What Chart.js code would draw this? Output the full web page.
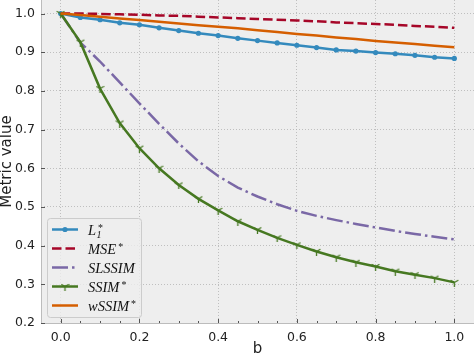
<!DOCTYPE html>
<html><head><meta charset="utf-8">
<script src="https://cdn.jsdelivr.net/npm/chart.js@4"></script>
<style>html,body{margin:0;padding:0;background:#fff;overflow:hidden}canvas{display:block}</style>
</head><body>
<canvas id="c" width="474" height="357"></canvas>
<script>
const bValues = [0,0.05,0.1,0.15,0.2,0.25,0.3,0.35,0.4,0.45,0.5,0.55,0.6,0.65,0.7,0.75,0.8,0.85,0.9,0.95,1.0];
const l1Values = [1.0,0.990,0.984,0.976,0.971,0.963,0.956,0.949,0.943,0.936,0.930,0.924,0.918,0.912,0.906,0.903,0.899,0.896,0.892,0.887,0.884];
const mseValues = [1.0,1.0,0.999,0.998,0.997,0.995,0.994,0.992,0.990,0.988,0.986,0.984,0.982,0.980,0.977,0.975,0.973,0.971,0.968,0.966,0.963];
const slssimValues = [1.0,0.925,0.876,0.822,0.768,0.715,0.664,0.618,0.580,0.550,0.527,0.507,0.490,0.477,0.466,0.456,0.447,0.438,0.430,0.423,0.416];
const ssimValues = [1.0,0.926,0.806,0.717,0.652,0.600,0.557,0.521,0.491,0.463,0.441,0.420,0.402,0.385,0.370,0.357,0.346,0.334,0.325,0.316,0.305];
const wssimValues = [1.0,0.996,0.992,0.987,0.983,0.979,0.974,0.970,0.966,0.962,0.957,0.952,0.947,0.943,0.938,0.934,0.929,0.925,0.921,0.917,0.913];
const xTicks = [0,0.2,0.4,0.6,0.8,1.0];
const xMinorTicks = [0.05,0.1,0.15,0.25,0.3,0.35,0.45,0.5,0.55,0.65,0.7,0.75,0.85,0.9,0.95];
const yTicks = [0.2,0.3,0.4,0.5,0.6,0.7,0.8,0.9,1.0];
const seriesNames = ['L1','MSE','SLSSIM','SSIM','wSSIM'];

const C = {blue:'#348ABD', red:'#A60628', purple:'#7A68A6', green:'#467821', orange:'#D55E00'};
const LW = 2.5;

function triMarker(color){
  const c=document.createElement('canvas'); c.width=9; c.height=9;
  const g=c.getContext('2d'); g.strokeStyle=color; g.lineWidth=1.3;
  g.beginPath(); g.moveTo(4.5,4.5); g.lineTo(4.5,9); g.moveTo(4.5,4.5); g.lineTo(0.6,2.2);
  g.moveTo(4.5,4.5); g.lineTo(8.4,2.2); g.stroke(); return c;
}
const tri = triMarker(C.green);
const pts = arr => bValues.map((b,i)=>({x:b,y:arr[i]}));

const datasets = [
  {label:seriesNames[0], data:pts(l1Values), borderColor:C.blue, backgroundColor:C.blue, borderWidth:LW, pointRadius:2.6, pointBorderWidth:0, pointStyle:'circle', order:5},
  {label:seriesNames[1], data:pts(mseValues), borderColor:C.red, borderWidth:LW, borderDash:[9.5,4], pointRadius:0, order:4},
  {label:seriesNames[2], data:pts(slssimValues), borderColor:C.purple, borderWidth:LW, borderDash:[16,4,2.5,4], pointRadius:0, order:3},
  {label:seriesNames[3], data:pts(ssimValues), borderColor:C.green, backgroundColor:C.green, borderWidth:LW, pointRadius:4.5, pointStyle:tri, order:2},
  {label:seriesNames[4], data:pts(wssimValues), borderColor:C.orange, borderWidth:LW, pointRadius:0, order:1}
];

const legendItems = [
  {color:C.blue, dash:[], marker:'dot', base:'L', sub:'1', sup:'*'},
  {color:C.red, dash:[9.5,4], base:'MSE', sup:'*'},
  {color:C.purple, dash:[16,4,2.5,4], base:'SLSSIM'},
  {color:C.green, dash:[], marker:'tri', base:'SSIM', sup:'*'},
  {color:C.orange, dash:[], base:'wSSIM', sup:'*'}
];

const decor = {
  id:'decor',
  beforeDraw(chart){
    const {ctx, chartArea:a} = chart;
    ctx.save(); ctx.fillStyle='#eeeeee'; ctx.fillRect(a.left,a.top,a.right-a.left,a.bottom-a.top); ctx.restore();
  },
  afterDraw(chart){
    const {ctx, chartArea:a, scales:{x,y}} = chart;
    ctx.save();
    ctx.strokeStyle='#bcbcbc'; ctx.lineWidth=1;
    ctx.beginPath(); ctx.moveTo(a.left+0.5,a.top); ctx.lineTo(a.left+0.5,a.bottom+0.5); ctx.lineTo(a.right,a.bottom+0.5); ctx.stroke();
    ctx.strokeStyle='#555'; ctx.lineWidth=1;
    ctx.beginPath();
    xTicks.forEach(v=>{const px=Math.round(x.getPixelForValue(v))+0.5; ctx.moveTo(px,a.bottom); ctx.lineTo(px,a.bottom-4);});
    xMinorTicks.forEach(v=>{const px=Math.round(x.getPixelForValue(v))+0.5; ctx.moveTo(px,a.bottom); ctx.lineTo(px,a.bottom-2);});
    yTicks.forEach(v=>{const py=Math.round(y.getPixelForValue(v))+0.5; ctx.moveTo(a.left,py); ctx.lineTo(a.left+4,py);});
    ctx.stroke();
    const lx=47, ly=218, lw=94, lh=99;
    ctx.fillStyle='rgba(238,238,238,0.8)'; ctx.strokeStyle='#cccccc'; ctx.lineWidth=1;
    ctx.beginPath(); if(ctx.roundRect){ctx.roundRect(lx+0.5,ly+0.5,lw,lh,3);} else {ctx.rect(lx+0.5,ly+0.5,lw,lh);} ctx.fill(); ctx.stroke();
    legendItems.forEach((it,i)=>{
      const cy = 229.5 + i*19;
      ctx.save(); ctx.strokeStyle=it.color; ctx.lineWidth=LW; ctx.setLineDash(it.dash);
      ctx.beginPath(); ctx.moveTo(52,cy); ctx.lineTo(78,cy); ctx.stroke(); ctx.restore();
      if(it.marker==='dot'){ctx.fillStyle=it.color; ctx.beginPath(); ctx.arc(65,cy,2.6,0,Math.PI*2); ctx.fill();}
      if(it.marker==='tri'){ctx.drawImage(tri,65-4.5,cy-4.5);}
      ctx.fillStyle='#111'; ctx.textBaseline='alphabetic'; ctx.textAlign='left';
      ctx.font="italic 14.5px 'Liberation Serif'";
      let tx=88; const base=cy+5;
      ctx.fillText(it.base,tx,base); tx+=ctx.measureText(it.base).width;
      ctx.font="italic 10px 'Liberation Serif'";
      if(it.sub){ctx.fillText(it.sub,tx+0.5,base+3);}
      if(it.sup){ctx.fillText(it.sup,tx+1.5,base-4);}
    });
    ctx.restore();
  }
};

new Chart(document.getElementById('c'), {
  type:'line',
  data:{datasets},
  options:{
    animation:false, responsive:false, devicePixelRatio:1,
    layout:{padding:0, autoPadding:false},
    elements:{line:{tension:0}},
    plugins:{legend:{display:false}, tooltip:{enabled:false}},
    scales:{
      x:{type:'linear', min:-0.05, max:1.05,
        afterBuildTicks:s=>{s.ticks=xTicks.map(v=>({value:v}));},
        afterFit:s=>{s.height=34; s.paddingLeft=0; s.paddingRight=0;},
        ticks:{callback:v=>Number(v).toFixed(1), font:{family:'DejaVu Sans',size:12.5}, color:'#222', padding:7, maxRotation:0, autoSkip:false},
        grid:{color:'#b2b2b2', lineWidth:0.8, drawTicks:false},
        border:{display:false, dash:[1,2]},
        title:{display:true, text:'b', font:{family:'DejaVu Sans',size:15,lineHeight:1}, color:'#222', padding:0}
      },
      y:{type:'linear', min:0.2, max:1.035,
        afterBuildTicks:s=>{s.ticks=yTicks.map(v=>({value:v}));},
        afterFit:s=>{s.width=41; s.paddingTop=0; s.paddingBottom=0;},
        ticks:{callback:v=>Number(v).toFixed(1), font:{family:'DejaVu Sans',size:12.5}, color:'#222', padding:6, autoSkip:false},
        grid:{color:'#b2b2b2', lineWidth:0.8, drawTicks:false},
        border:{display:false, dash:[1,2]},
        title:{display:true, text:'Metric value', font:{family:'DejaVu Sans',size:15,lineHeight:1}, color:'#222', padding:0}
      }
    }
  },
  plugins:[decor]
});
</script>
</body></html>
